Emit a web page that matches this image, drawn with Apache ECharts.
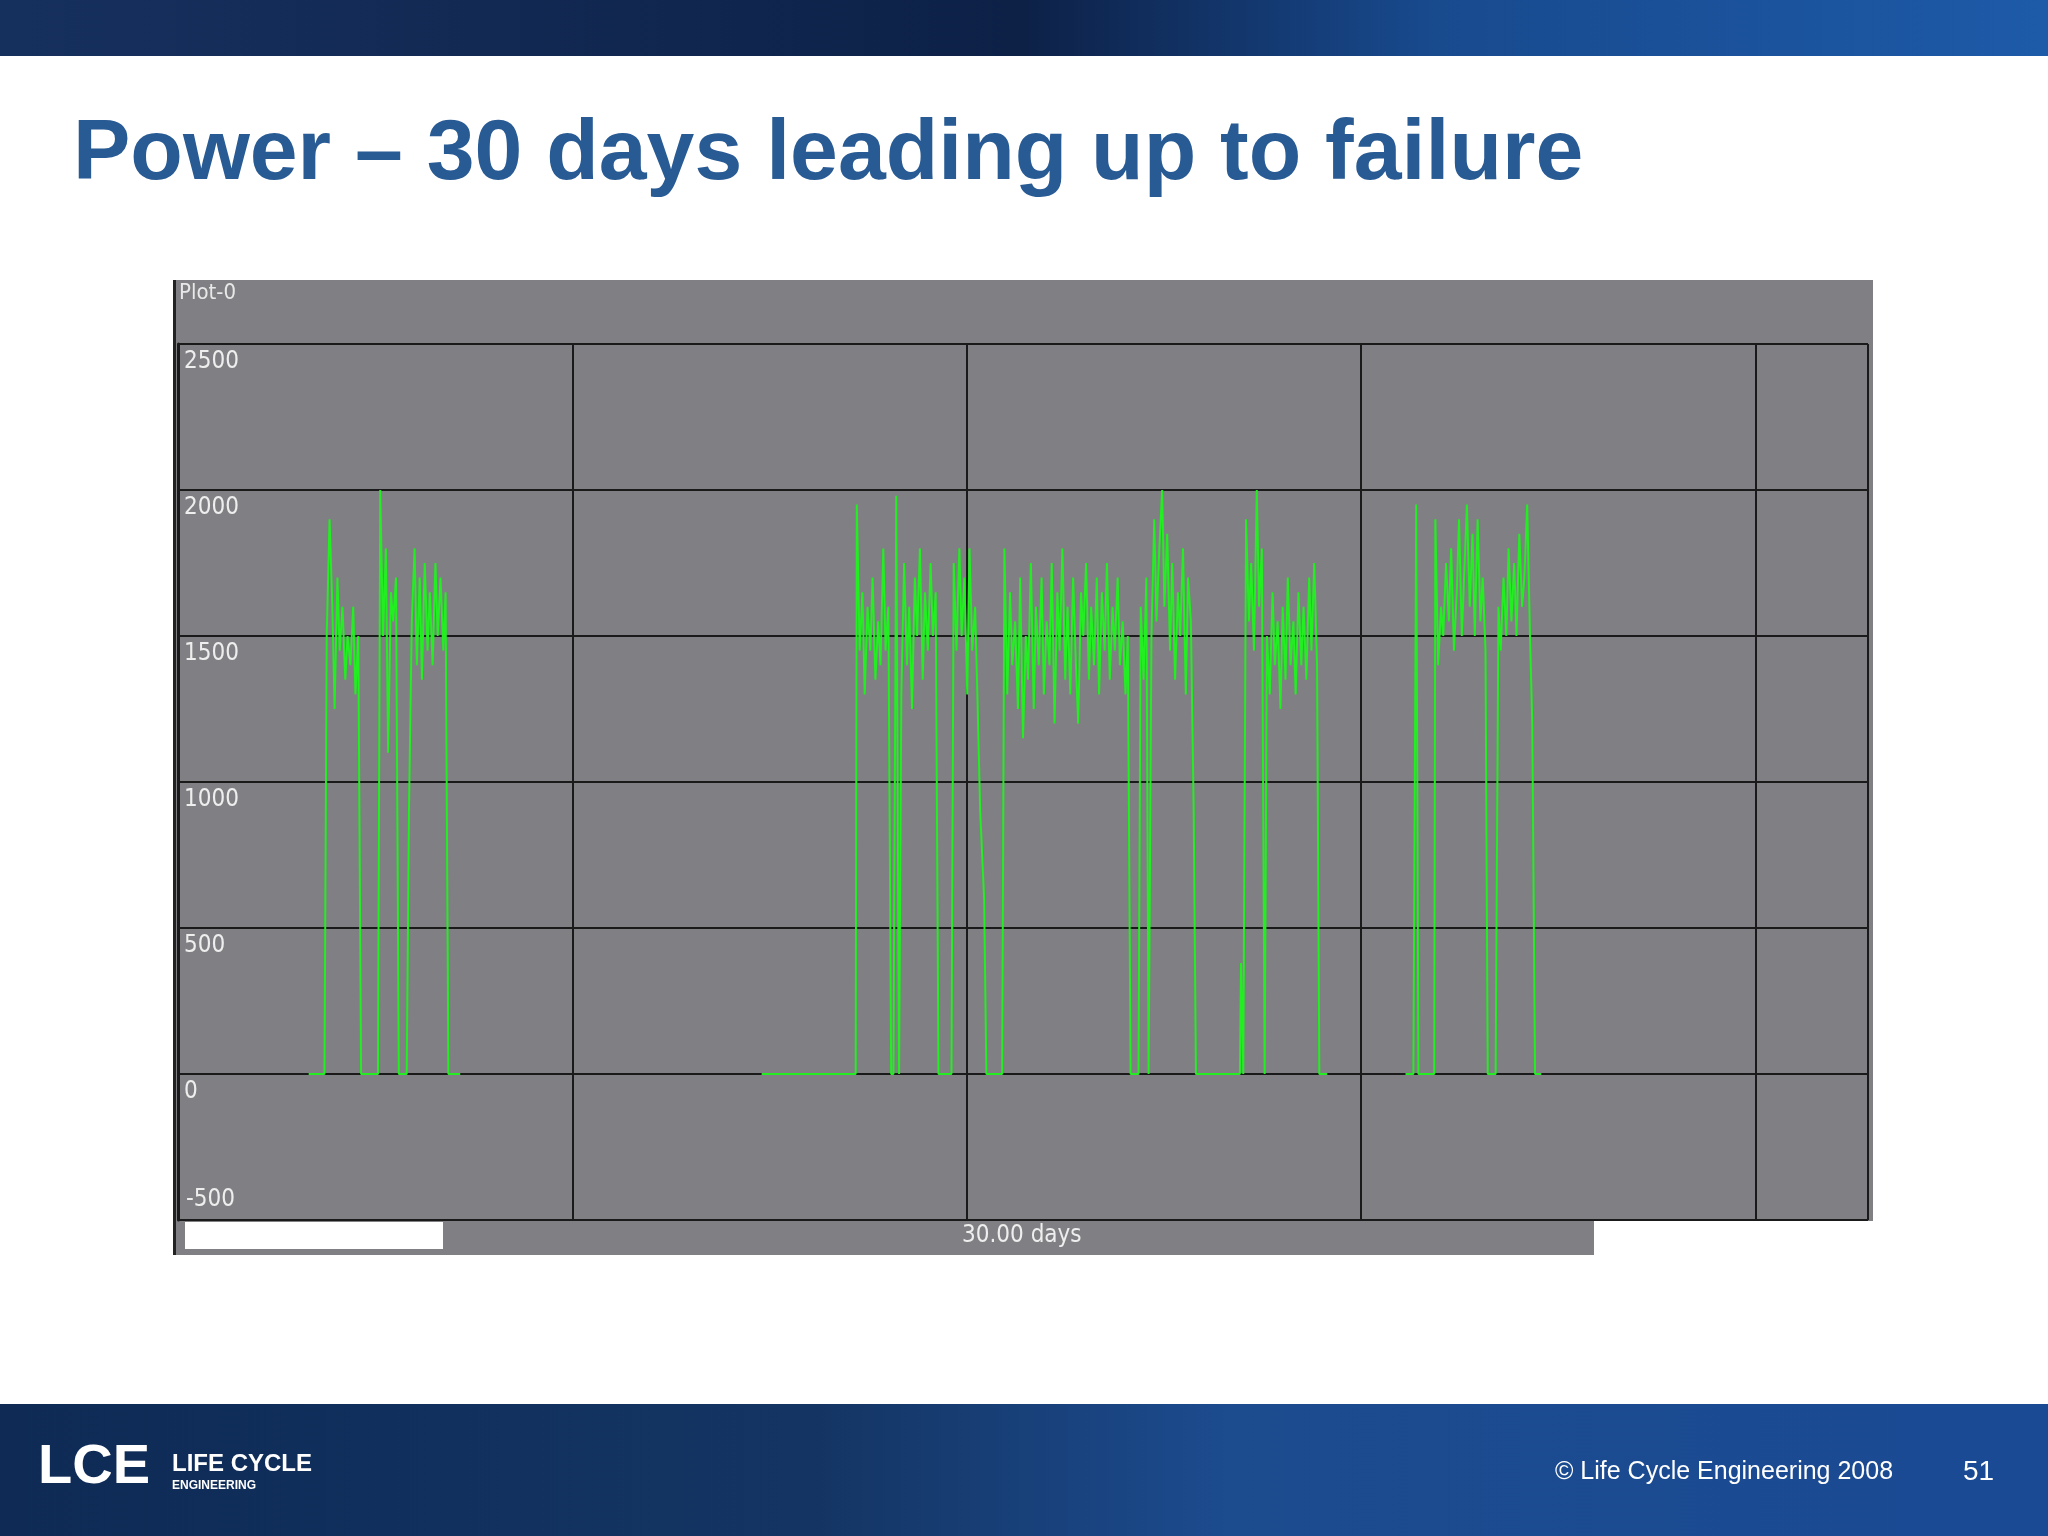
<!DOCTYPE html>
<html>
<head>
<meta charset="utf-8">
<script src="https://cdn.jsdelivr.net/npm/echarts@6/dist/echarts.min.js"></script>
<style>
html,body{margin:0;padding:0;background:#fff;}
#chart{width:2048px;height:1536px;}
</style>
</head>
<body>
<div id="chart"></div>
<script>
// power readings, [day, watts]
const burstA = [
  [2.32,0],[2.60,0],[2.64,1500],[2.69,1900],[2.74,1600],[2.78,1250],[2.83,1700],[2.87,1450],
  [2.92,1600],[2.97,1350],[3.01,1500],[3.06,1400],[3.11,1600],[3.15,1300],[3.20,1500],[3.25,0],
  [3.55,0],[3.59,2000],[3.64,1500],[3.69,1800],[3.73,1100],[3.78,1650],[3.82,1550],[3.87,1700],
  [3.92,0],[4.06,0],[4.10,900],[4.15,1550],[4.20,1800],[4.24,1400],[4.29,1700],[4.33,1350],
  [4.38,1750],[4.43,1450],[4.47,1650],[4.52,1400],[4.57,1750],[4.61,1500],[4.66,1700],
  [4.71,1450],[4.75,1650],[4.80,0],[5.01,0]
];
const burstB = [
  [10.36,0],[12.03,0],[12.05,1950],[12.10,1450],[12.15,1650],[12.19,1300],[12.24,1600],[12.29,1450],
  [12.33,1700],[12.38,1350],[12.43,1550],[12.47,1400],[12.52,1800],[12.56,1450],[12.61,1600],
  [12.66,0],[12.70,0],[12.75,1980],[12.80,0],[12.84,1300],[12.89,1750],[12.94,1400],[12.98,1600],
  [13.03,1250],[13.08,1700],[13.12,1500],[13.17,1800],[13.22,1350],[13.26,1650],[13.31,1450],
  [13.36,1750],[13.40,1500],[13.45,1650],[13.50,0],[13.73,0],[13.77,1750],[13.82,1450],[13.87,1800],
  [13.91,1500],[13.96,1700],[14.01,1300],[14.05,1800],[14.10,1450],[14.15,1600],[14.19,1300],
  [14.24,900],[14.31,600],[14.35,0],[14.63,0],[14.67,1800],[14.72,1300],[14.77,1650],[14.81,1400],
  [14.86,1550],[14.91,1250],[14.95,1700],[15.00,1150],[15.05,1500],[15.09,1350],[15.14,1750],
  [15.19,1250],[15.23,1600],[15.28,1400],[15.33,1700],[15.37,1300],[15.42,1550],[15.47,1400],
  [15.51,1750],[15.56,1200],[15.61,1650],[15.65,1450],[15.70,1800],[15.75,1350],[15.79,1600],
  [15.84,1300],[15.89,1700],[15.93,1450],[15.98,1200],[16.03,1650],[16.07,1500],[16.12,1750],
  [16.17,1350],[16.21,1600],[16.26,1400],[16.31,1700],[16.35,1300],[16.40,1650],[16.45,1450],
  [16.49,1750],[16.54,1350],[16.59,1600],[16.63,1450],[16.68,1700],[16.72,1400],[16.77,1550],
  [16.82,1300],[16.86,1500],[16.91,0],[17.05,0],[17.09,1600],[17.14,1350],[17.19,1700],[17.23,0],
  [17.28,1500],[17.33,1900],[17.37,1550],[17.42,1800],[17.47,2000],[17.51,1600],[17.56,1850],
  [17.61,1450],[17.65,1750],[17.70,1350],[17.75,1650],[17.79,1500],[17.84,1800],[17.89,1300],
  [17.93,1700],[17.98,1550],[18.03,900],[18.07,0],[18.28,0],[18.85,0],[18.87,380],[18.91,0],
  [18.96,1900],[19.01,1550],[19.05,1750],[19.10,1450],[19.15,2000],[19.19,1600],[19.24,1800],
  [19.29,0],[19.33,1500],[19.38,1300],[19.43,1650],[19.47,1400],[19.52,1550],[19.57,1250],
  [19.61,1600],[19.66,1350],[19.70,1700],[19.75,1400],[19.80,1550],[19.84,1300],[19.89,1650],
  [19.94,1400],[19.98,1600],[20.03,1350],[20.08,1700],[20.12,1450],[20.17,1750],[20.22,1400],
  [20.26,0],[20.40,0]
];
const burstC = [
  [21.79,0],[21.93,0],[21.98,1950],[22.02,0],[22.30,0],[22.32,1900],[22.37,1400],[22.42,1600],
  [22.46,1500],[22.51,1750],[22.56,1550],[22.60,1800],[22.65,1450],[22.70,1650],[22.74,1900],
  [22.79,1500],[22.84,1750],[22.88,1950],[22.93,1600],[22.98,1850],[23.02,1500],[23.07,1900],
  [23.12,1550],[23.16,1700],[23.21,1450],[23.25,0],[23.39,0],[23.44,1600],[23.48,1450],[23.53,1700],
  [23.58,1500],[23.62,1800],[23.67,1550],[23.72,1750],[23.76,1500],[23.81,1850],[23.86,1600],
  [23.90,1700],[23.95,1950],[24.00,1500],[24.04,1200],[24.09,0],[24.20,0]
];
const yTicks = [-500, 0, 500, 1000, 1500, 2000, 2500];

const chart = echarts.init(document.getElementById('chart'));
const lineSeries = d => ({type:'line', data:d, showSymbol:false, animation:false,
  lineStyle:{color:'#22ee22', width:2}});

chart.setOption({
  backgroundColor:'#ffffff',
  animation:false,
  grid:{left:178, right:180, top:344, bottom:316},
  xAxis:{type:'value', min:0, max:30, interval:7,
    axisLine:{show:false}, axisTick:{show:false}, axisLabel:{show:false},
    splitLine:{show:true, lineStyle:{color:'#1a1a1a', width:2}}},
  yAxis:{type:'value', min:yTicks[0], max:yTicks[yTicks.length-1], interval:500,
    axisLine:{show:true, lineStyle:{color:'#1a1a1a', width:3}}, axisTick:{show:false},
    splitLine:{show:true, lineStyle:{color:'#1a1a1a', width:2}},
    axisLabel:{inside:true, verticalAlign:'top', color:'#eeeeee', fontSize:24,
      fontFamily:'DejaVu Sans Condensed', margin:6, padding:[6,0,0,0], showMinLabel:false,
      formatter:v => String(v)}},
  graphic:[
    {type:'rect', z:-10, shape:{x:0,y:0,width:2048,height:56},
      style:{fill:new echarts.graphic.LinearGradient(0,0,1,0,[{offset:0,color:'#16305e'},{offset:0.5,color:'#0d2147'},{offset:0.7,color:'#184a8e'},{offset:1,color:'#1d5aa8'}])}},
    {type:'text', left:73, top:112, style:{text:'Power – 30 days leading up to failure',
      font:'bold 86px Arial, "Liberation Sans"', fill:'#285a94'}},
    {type:'rect', z:-10, shape:{x:175,y:280,width:1698,height:941}, style:{fill:'#807f83'}},
    {type:'rect', z:-10, shape:{x:175,y:1221,width:1419,height:34}, style:{fill:'#807f83'}},
    {type:'rect', z:-10, shape:{x:173,y:280,width:3,height:975}, style:{fill:'#222'}},
    {type:'rect', z:-9, shape:{x:185,y:1222,width:258,height:27}, style:{fill:'#ffffff'}},
    {type:'text', left:179, top:282, style:{text:'Plot-0', font:'22px "DejaVu Sans Condensed"', fill:'#e8e8e8'}},
    {type:'text', left:186, top:1188, style:{text:'-500', font:'24px "DejaVu Sans Condensed"', fill:'#eeeeee'}},
    {type:'text', left:962, top:1224, style:{text:'30.00 days', font:'24px "DejaVu Sans Condensed"', fill:'#eeeeee'}},
    {type:'rect', z:-10, shape:{x:0,y:1404,width:2048,height:132},
      style:{fill:new echarts.graphic.LinearGradient(0,0,1,0,[{offset:0,color:'#0e2a55'},{offset:0.4,color:'#143564'},{offset:0.6,color:'#1c4b8e'},{offset:1,color:'#1a4a94'}])}},
    {type:'text', left:38, top:1440, style:{text:'LCE', font:'bold 56px Arial, "Liberation Sans"', fill:'#ffffff'}},
    {type:'text', left:172, top:1452, style:{text:'LIFE CYCLE', font:'bold 24px Arial, "Liberation Sans"', fill:'#ffffff'}},
    {type:'text', left:172, top:1480, style:{text:'ENGINEERING', font:'bold 12px Arial, "Liberation Sans"', fill:'#ffffff'}},
    {type:'text', left:1555, top:1460, style:{text:'© Life Cycle Engineering 2008', font:'25px Arial, "Liberation Sans"', fill:'#ffffff'}},
    {type:'text', left:1963, top:1458, style:{text:'51', font:'28px Arial, "Liberation Sans"', fill:'#ffffff'}}
  ],
  series:[lineSeries(burstA), lineSeries(burstB), lineSeries(burstC)]
});
</script>
</body>
</html>
